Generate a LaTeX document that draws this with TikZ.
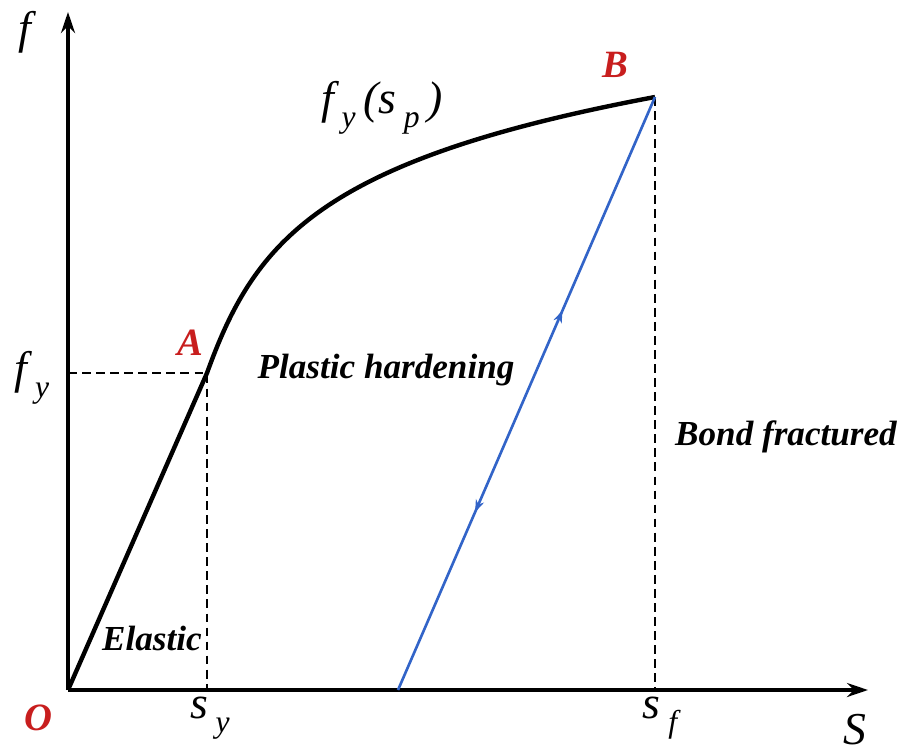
\documentclass[tikz,border=0pt]{standalone}
\usepackage{fontspec}
\setmainfont{Liberation Serif}
\usetikzlibrary{arrows.meta,decorations.markings}
\definecolor{redl}{RGB}{200,30,30}
\definecolor{bluel}{RGB}{50,100,200}
\begin{document}
\begin{tikzpicture}[x=0.02cm,y=-0.02cm,
  lbl/.style={font=\fontsize{20}{24}\selectfont\bfseries\itshape},
  pt/.style={font=\fontsize{22}{26}\selectfont\bfseries\itshape,text=redl},
  sym/.style={font=\fontsize{26}{30}\selectfont\itshape},
  dsh/.style={dashed,line width=1pt,dash pattern=on 5pt off 3pt}]
\useasboundingbox (0,0) rectangle (905,753);
\coordinate (O) at (68,690);
\coordinate (ytop) at (68,12);
\coordinate (xend) at (868,690);
\coordinate (A) at (207,373);
\coordinate (B) at (655,97);
\coordinate (Ay) at (68,373);
\coordinate (Ax) at (207,690);
\coordinate (Bx) at (655,690);
\coordinate (U) at (398,690);
\draw[line width=2pt,-{Stealth[length=12pt,width=8pt]}] (O) -- (ytop);
\draw[line width=2pt,-{Stealth[length=12pt,width=8pt]}] (O) -- (xend);
\draw[dsh] (Ay) -- (A) -- (Ax);
\draw[dsh] (B) -- (Bx);
\draw[line width=2.5pt,line join=round] (O) -- (A) .. controls (255,240) and (320,160) .. (B);
\draw[bluel,line width=1.5pt,postaction={decorate},decoration={markings,
  mark=at position 0.64 with {\arrow{Stealth[length=7pt,width=5pt]}},
  mark=at position 0.3 with {\arrowreversed{Stealth[length=7pt,width=5pt]}}}] (U) -- (B);
\node[sym] (lf) at (25,32) {f};
\node[sym] (lfy) at (32,378) {f\,\raisebox{-0.3em}{\fontsize{18}{20}\selectfont y}};
\node[sym] (lsy) at (210,718) {s\,\raisebox{-0.3em}{\fontsize{18}{20}\selectfont y}};
\node[sym] (lsf) at (660,718) {s\,\raisebox{-0.3em}{\fontsize{18}{20}\selectfont f}};
\node[sym] (lS) at (855,730) {S};
\node[sym] (lfys) at (382,108) {f\,\raisebox{-0.3em}{\fontsize{18}{20}\selectfont y}\,(s\,\raisebox{-0.3em}{\fontsize{18}{20}\selectfont p}\,)};
\node[pt] (lO) at (38,718) {O};
\node[pt] (lA) at (190,343) {A};
\node[pt] (lB) at (615,65) {B};
\node[lbl] (lph) at (386,370) {Plastic hardening};
\node[lbl] (lbf) at (786,437) {Bond fractured};
\node[lbl] (lel) at (152,638) {Elastic};
\end{tikzpicture}
\end{document}
